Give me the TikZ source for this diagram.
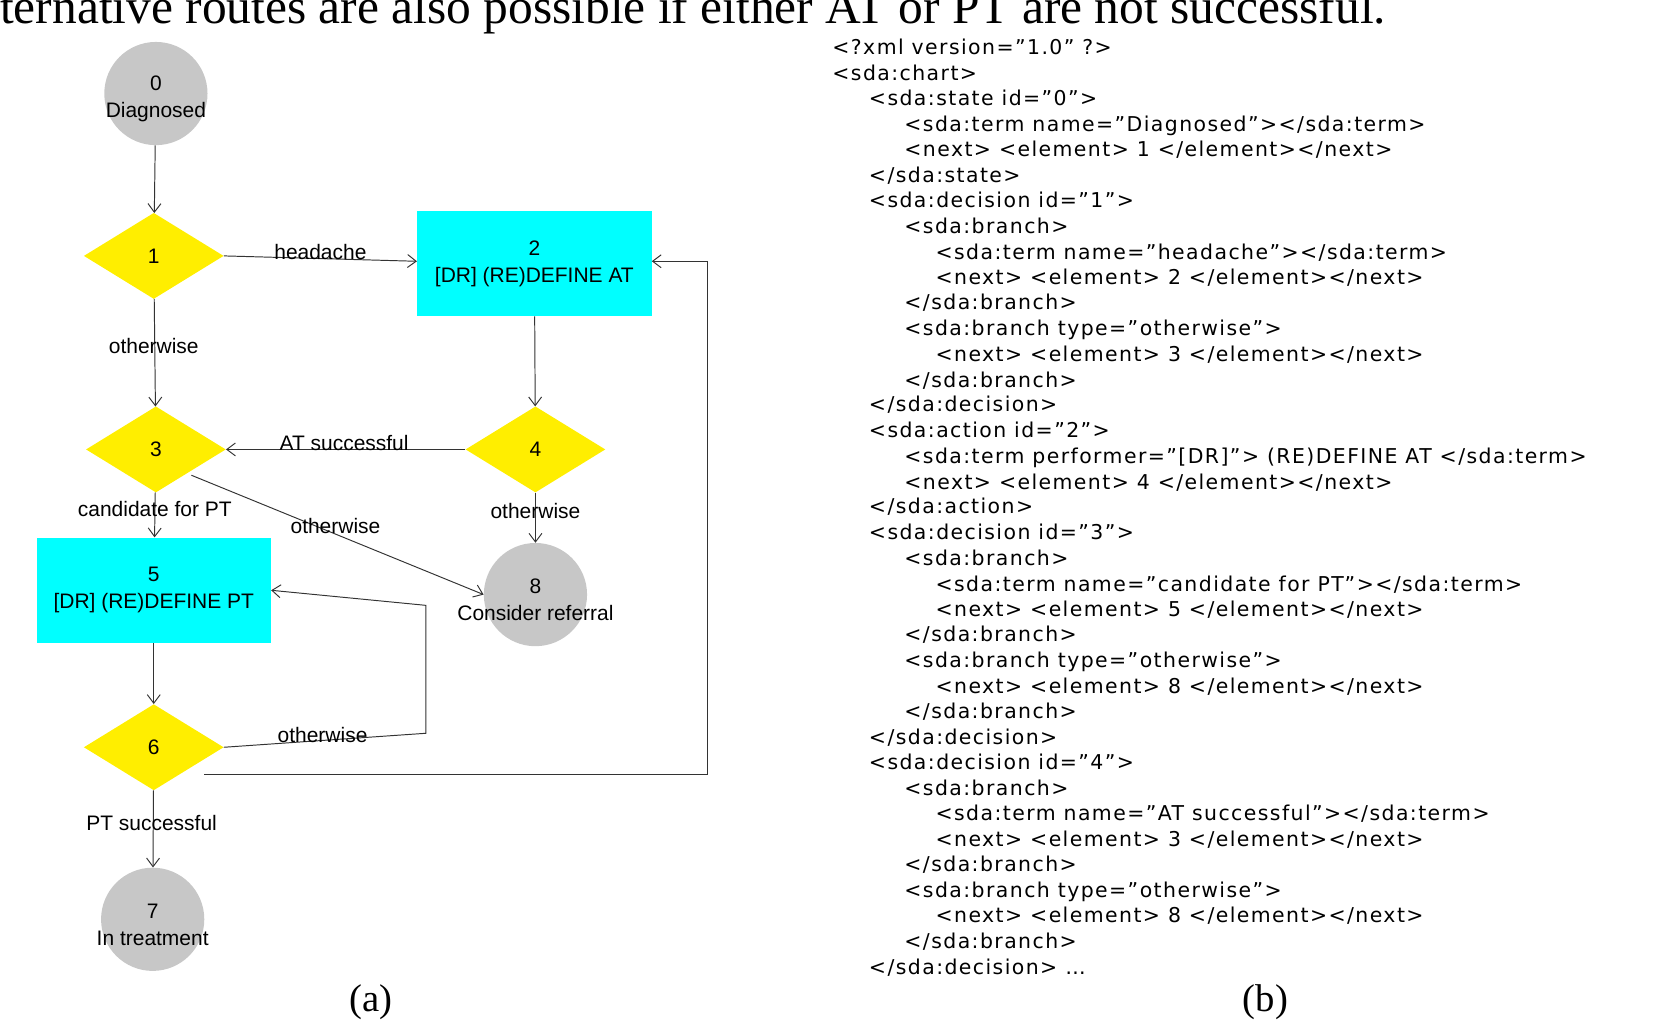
\documentclass[tikz,border=0pt]{standalone}
\usepackage{fontspec}
\setmainfont{Liberation Serif}
\newfontfamily\dsans{Liberation Sans}
\newfontfamily\xsans[LetterSpace=7]{DejaVu Sans}
\usetikzlibrary{shapes.geometric,arrows.meta}
\definecolor{cy}{RGB}{0,255,255}
\definecolor{ye}{RGB}{255,238,0}
\begin{document}
\begin{tikzpicture}[x=1pt,y=-1pt,
  lbl/.style={font=\dsans\fontsize{19.5}{20}\selectfont,inner sep=0pt},
  circ/.style={circle,fill=black!22,minimum size=96pt,inner sep=0pt},
  ctxt/.style={align=center,inner sep=0pt,font=\dsans\fontsize{19.5}{25}\selectfont},
  dia/.style={diamond,fill=ye,minimum width=130pt,minimum height=80pt,inner sep=0pt,aspect=1.625,font=\dsans\fontsize{19.5}{20}\selectfont},
  box/.style={rectangle,fill=cy,minimum width=218pt,minimum height=98pt,align=center,font=\dsans\fontsize{19.5}{25}\selectfont},
  ed/.style={draw=black!80,line width=0.9pt,-{Straight Barb[length=8pt,width=12pt]}},
  xml/.style={anchor=base west,inner sep=0pt,font=\xsans\fontsize{19}{20}\selectfont}]
\useasboundingbox (0,0) rectangle (1556,948);
\node[anchor=base west,inner sep=0pt,font=\fontsize{46}{48}\selectfont] (top) at (0,22) {ternative routes are also possible if either AT or PT are not successful.};
\node[circ] (n0) at (145,87) {};
\node[ctxt] (t0) at (145,92) {0\\Diagnosed};
\node[dia] (n1) at (143,238) {1};
\node[box] (n2) at (497,245) {2\\{[DR]} (RE)DEFINE AT};
\node[dia] (n3) at (145,418) {3};
\node[dia] (n4) at (498,418) {4};
\node[box] (n5) at (143,549) {5\\{[DR]} (RE)DEFINE PT};
\node[circ] (n8) at (498,553) {};
\node[ctxt] (t8) at (498,558) {8\\Consider referral};
\node[dia] (n6) at (143,695) {6};
\node[circ] (n7) at (142,855) {};
\node[ctxt] (t7) at (142,860) {7\\In treatment};
\coordinate (c1) at (396,682);
\coordinate (c2) at (396,563);
\coordinate (c3) at (658,720);
\coordinate (c4) at (658,243);
\coordinate (s6) at (190,720);
\coordinate (s3) at (178,442);
\draw[ed] (n0) -- (n1);
\draw[ed] (n1.east) -- (n2.west |- 0,243);
\draw[ed] (n1) -- (n3);
\draw[ed] (n2) -- (n4);
\draw[ed] (n4.west) -- (n3.east);
\draw[ed] (n3) -- (n5);
\draw[ed] (s3) -- (n8.west);
\draw[ed] (n4) -- (n8);
\draw[ed] (n5) -- (n6);
\draw[ed] (n6.east) -- (c1) -- (c2) -- (n5.east);
\draw[ed] (s6) -- (c3) -- (c4) -- (n2.east |- c4);
\draw[ed] (n6) -- (n7);
\node[lbl] (la) at (298,234) {headache};
\node[lbl] (lb) at (143,322) {otherwise};
\node[lbl] (lc) at (320,412) {AT successful};
\node[lbl] (ld) at (144,473) {candidate for PT};
\node[lbl] (le) at (312,489) {otherwise};
\node[lbl] (lf) at (498,475) {otherwise};
\node[lbl] (lg) at (300,684) {otherwise};
\node[lbl] (lh) at (141,765) {PT successful};
\node[font=\fontsize{36}{40}\selectfont] (capa) at (345,932) {(a)};
\node[font=\fontsize{36}{40}\selectfont] (capb) at (1177,932) {(b)};
\def\ya{774}\def\yb{808}\def\yc{841}\def\yd{870}
\node[xml] (x0) at (\ya,51) {<?xml version=”1.0” ?>};
\node[xml] (x1) at (\ya,75) {<sda:chart>};
\node[xml] (x2) at (\yb,98) {<sda:state id=”0”>};
\node[xml] (x3) at (\yc,122) {<sda:term name=”Diagnosed”></sda:term>};
\node[xml] (x4) at (\yc,146) {<next> <element> 1 </element></next>};
\node[xml] (x5) at (\yb,170) {</sda:state>};
\node[xml] (x6) at (\yb,193) {<sda:decision id=”1”>};
\node[xml] (x7) at (\yc,217) {<sda:branch>};
\node[xml] (x8) at (\yd,241) {<sda:term name=”headache”></sda:term>};
\node[xml] (x9) at (\yd,265) {<next> <element> 2 </element></next>};
\node[xml] (x10) at (\yc,288) {</sda:branch>};
\node[xml] (x11) at (\yc,312) {<sda:branch type=”otherwise”>};
\node[xml] (x12) at (\yd,336) {<next> <element> 3 </element></next>};
\node[xml] (x13) at (\yc,360) {</sda:branch>};
\node[xml] (x14) at (\yb,383) {</sda:decision>};
\node[xml] (x15) at (\yb,407) {<sda:action id=”2”>};
\node[xml] (x16) at (\yc,431) {<sda:term performer=”[DR]”> (RE)DEFINE AT </sda:term>};
\node[xml] (x17) at (\yc,455) {<next> <element> 4 </element></next>};
\node[xml] (x18) at (\yb,478) {</sda:action>};
\node[xml] (x19) at (\yb,502) {<sda:decision id=”3”>};
\node[xml] (x20) at (\yc,526) {<sda:branch>};
\node[xml] (x21) at (\yd,550) {<sda:term name=”candidate for PT”></sda:term>};
\node[xml] (x22) at (\yd,573) {<next> <element> 5 </element></next>};
\node[xml] (x23) at (\yc,597) {</sda:branch>};
\node[xml] (x24) at (\yc,621) {<sda:branch type=”otherwise”>};
\node[xml] (x25) at (\yd,645) {<next> <element> 8 </element></next>};
\node[xml] (x26) at (\yc,668) {</sda:branch>};
\node[xml] (x27) at (\yb,692) {</sda:decision>};
\node[xml] (x28) at (\yb,716) {<sda:decision id=”4”>};
\node[xml] (x29) at (\yc,740) {<sda:branch>};
\node[xml] (x30) at (\yd,763) {<sda:term name=”AT successful”></sda:term>};
\node[xml] (x31) at (\yd,787) {<next> <element> 3 </element></next>};
\node[xml] (x32) at (\yc,811) {</sda:branch>};
\node[xml] (x33) at (\yc,835) {<sda:branch type=”otherwise”>};
\node[xml] (x34) at (\yd,858) {<next> <element> 8 </element></next>};
\node[xml] (x35) at (\yc,882) {</sda:branch>};
\node[xml] (x36) at (\yb,906) {</sda:decision> …};
\end{tikzpicture}
\end{document}
